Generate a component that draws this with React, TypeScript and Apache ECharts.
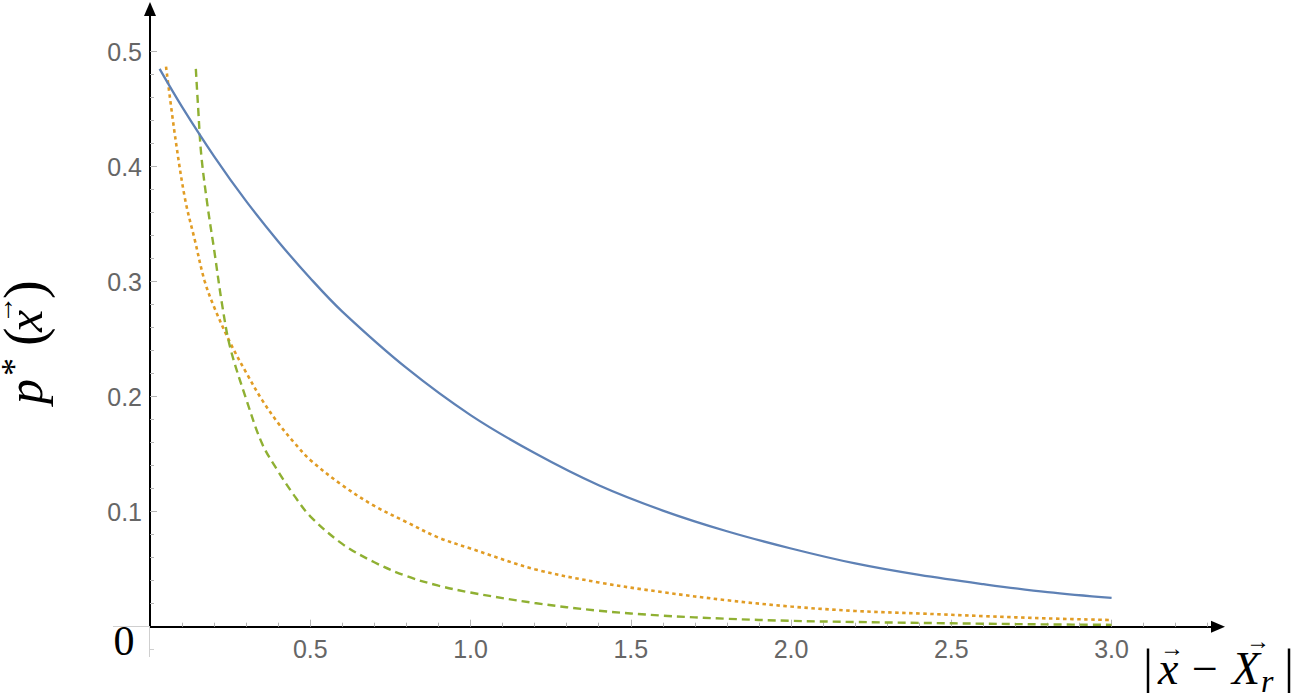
import React, { useEffect, useRef } from "react";
import * as echarts from "echarts";

// ---- data ----
const blueX = [0.03, 0.1, 0.2, 0.3, 0.4, 0.5, 0.6, 0.8, 1.0, 1.2, 1.4, 1.6, 1.8, 2.0, 2.2, 2.4, 2.6, 2.8, 3.0];
const blueY = [0.485, 0.452, 0.409, 0.37, 0.335, 0.303, 0.274, 0.225, 0.184, 0.151, 0.123, 0.101, 0.083, 0.068, 0.055, 0.045, 0.037, 0.03, 0.025];

const orangeX = [0.05, 0.08, 0.11, 0.14, 0.17, 0.2, 0.25, 0.3, 0.35, 0.4, 0.45, 0.5, 0.6, 0.7, 0.8, 0.9, 1.0, 1.2, 1.4, 1.6, 1.8, 2.0, 2.2, 2.4, 2.6, 2.8, 3.0];
const orangeY = [0.487, 0.423, 0.371, 0.336, 0.301, 0.278, 0.247, 0.221, 0.197, 0.177, 0.16, 0.145, 0.123, 0.105, 0.091, 0.0775, 0.068, 0.05, 0.0385, 0.03, 0.023, 0.0175, 0.0137, 0.0115, 0.0092, 0.0072, 0.0058];

const greenX = [0.143, 0.15, 0.16, 0.18, 0.2, 0.225, 0.25, 0.3, 0.35, 0.4, 0.45, 0.5, 0.6, 0.7, 0.8, 0.9, 1.0, 1.2, 1.4, 1.6, 1.8, 2.0, 2.2, 2.4, 2.6, 2.8, 3.0];
const greenY = [0.485, 0.452, 0.41, 0.365, 0.328, 0.28, 0.243, 0.198, 0.159, 0.135, 0.114, 0.096, 0.072, 0.056, 0.044, 0.0357, 0.0297, 0.0206, 0.0139, 0.0096, 0.0069, 0.0051, 0.0041, 0.0033, 0.0026, 0.002, 0.0016];

const xMajorTicks = [0.5, 1.0, 1.5, 2.0, 2.5, 3.0];
const xMinorTicks = [0.1, 0.2, 0.3, 0.4, 0.6, 0.7, 0.8, 0.9, 1.1, 1.2, 1.3, 1.4, 1.6, 1.7, 1.8, 1.9, 2.1, 2.2, 2.3, 2.4, 2.6, 2.7, 2.8, 2.9, 3.1, 3.2, 3.3];
const yMajorTicks = [0.1, 0.2, 0.3, 0.4, 0.5];
const yMinorTicks = [0.02, 0.04, 0.06, 0.08, 0.12, 0.14, 0.16, 0.18, 0.22, 0.24, 0.26, 0.28, 0.32, 0.34, 0.36, 0.38, 0.42, 0.44, 0.46, 0.48];

const X_MAX = 3.332;
const Y_MAX = 0.5371;

const zip = (xs: number[], ys: number[]) => xs.map((x, i) => [x, ys[i]]);

const LABEL_FONT = '"Liberation Sans", Arial, sans-serif';
const SERIF = '"Liberation Serif", "Times New Roman", serif';
const TICK_GRAY = "#b4b4b4";

export default function App() {
  const ref = useRef<HTMLDivElement>(null);

  useEffect(() => {
    if (!ref.current) return;
    const chart = echarts.init(ref.current, null, { renderer: "svg" });

    const axisLine = () => ({
      show: true,
      onZero: false,
      lineStyle: { color: "#000", width: 2 },
      symbol: ["none", "triangle"],
      symbolSize: [12, 14],
    });

    const tx = (t: string, x: number, y: number, size: number, italic: boolean, lh?: number) => ({
      type: "text",
      x,
      y,
      style: {
        text: t,
        font: `${italic ? "italic " : ""}${size}px ${SERIF}`,
        fill: "#000",
        align: "left",
        verticalAlign: "middle",
        lineHeight: lh ?? Math.round(size * 0.8),
      },
    });

    chart.setOption({
      animation: false,
      backgroundColor: "#fff",
      grid: { left: 150, top: 9, width: 1068, height: 617.7, containLabel: false },
      xAxis: [
        {
          type: "value",
          min: 0,
          max: X_MAX,
          position: "bottom",
          axisLine: axisLine(),
          axisTick: { show: true, inside: true, length: 7, lineStyle: { color: TICK_GRAY, width: 1 }, customValues: xMajorTicks },
          axisLabel: {
            customValues: xMajorTicks,
            formatter: (v: number) => v.toFixed(1),
            fontFamily: LABEL_FONT,
            fontSize: 25,
            color: "#666",
            margin: 10,
          },
          splitLine: { show: false },
        },
        {
          type: "value",
          min: 0,
          max: X_MAX,
          position: "bottom",
          axisLine: { show: false },
          axisTick: { show: true, inside: true, length: 4, lineStyle: { color: TICK_GRAY, width: 1 }, customValues: xMinorTicks },
          axisLabel: { show: false },
          splitLine: { show: false },
        },
      ],
      yAxis: [
        {
          type: "value",
          min: 0,
          max: Y_MAX,
          position: "left",
          axisLine: axisLine(),
          axisTick: { show: true, inside: true, length: 7, lineStyle: { color: TICK_GRAY, width: 1 }, customValues: yMajorTicks },
          axisLabel: {
            customValues: yMajorTicks,
            formatter: (v: number) => v.toFixed(1),
            fontFamily: LABEL_FONT,
            fontSize: 25,
            color: "#666",
            margin: 8,
          },
          splitLine: { show: false },
        },
        {
          type: "value",
          min: 0,
          max: Y_MAX,
          position: "left",
          axisLine: { show: false },
          axisTick: { show: true, inside: true, length: 4, lineStyle: { color: TICK_GRAY, width: 1 }, customValues: yMinorTicks },
          axisLabel: { show: false },
          splitLine: { show: false },
        },
      ],
      series: [
        {
          type: "line",
          data: zip(blueX, blueY),
          showSymbol: false,
          smooth: 0.35,
          lineStyle: { color: "#5E81B5", width: 2.3 },
          z: 4,
        },
        {
          type: "line",
          data: zip(orangeX, orangeY),
          showSymbol: false,
          smooth: 0.35,
          lineStyle: { color: "#E19C24", width: 2.6, type: [3.5, 3.5] },
          z: 3,
        },
        {
          type: "line",
          data: zip(greenX, greenY),
          showSymbol: false,
          smooth: 0.35,
          lineStyle: { color: "#8FB032", width: 2.4, type: [8, 5] },
          z: 3,
        },
      ],
      graphic: [
        // gray frame extensions at origin
        { type: "line", shape: { x1: 113, y1: 626.5, x2: 150, y2: 626.5 }, style: { stroke: "#cfcfcf", lineWidth: 1 }, z: 1 },
        { type: "line", shape: { x1: 149.5, y1: 627, x2: 149.5, y2: 657 }, style: { stroke: "#cfcfcf", lineWidth: 1 }, z: 1 },
        { type: "line", shape: { x1: 150, y1: 649.5, x2: 154, y2: 649.5 }, style: { stroke: "#cfcfcf", lineWidth: 1 }, z: 1 },
        // origin label
        {
          type: "text",
          x: 124,
          y: 641,
          style: { text: "0", font: `42px ${SERIF}`, fill: "#000", align: "center", verticalAlign: "middle", lineHeight: 32 },
        },
        // y axis title  p*(x→)
        {
          type: "group",
          x: 41,
          y: 404,
          rotation: Math.PI / 2,
          children: [
            tx("p", 0, -16, 50, true),
            tx("*", 28, -27, 36, false, 20),
            tx("(", 58, -17, 56, false),
            tx("x", 72, -16, 50, true),
            tx("→", 80, -38, 28, false, 8),
            tx(")", 105, -17, 56, false),
          ],
        },
        // x axis title |x→ − X→_r|
        {
          type: "group",
          x: 0,
          y: 0,
          children: [
            tx("|", 1143, 667, 50, false),
            tx("x", 1158, 668, 46, true, 26),
            tx("→", 1160, 648, 24, false, 8),
            tx("−", 1192, 668, 46, false, 26),
            tx("X", 1232, 668, 46, true, 26),
            tx("→", 1246, 641, 24, false, 8),
            tx("r", 1261, 681, 32, true, 20),
            tx("|", 1284, 667, 50, false),
          ],
        },
      ],
    });

    return () => chart.dispose();
  }, []);

  return (
    <div
      ref={ref}
      style={{ position: "absolute", left: 0, top: 0, width: 1298, height: 693, background: "#fff" }}
    />
  );
}
